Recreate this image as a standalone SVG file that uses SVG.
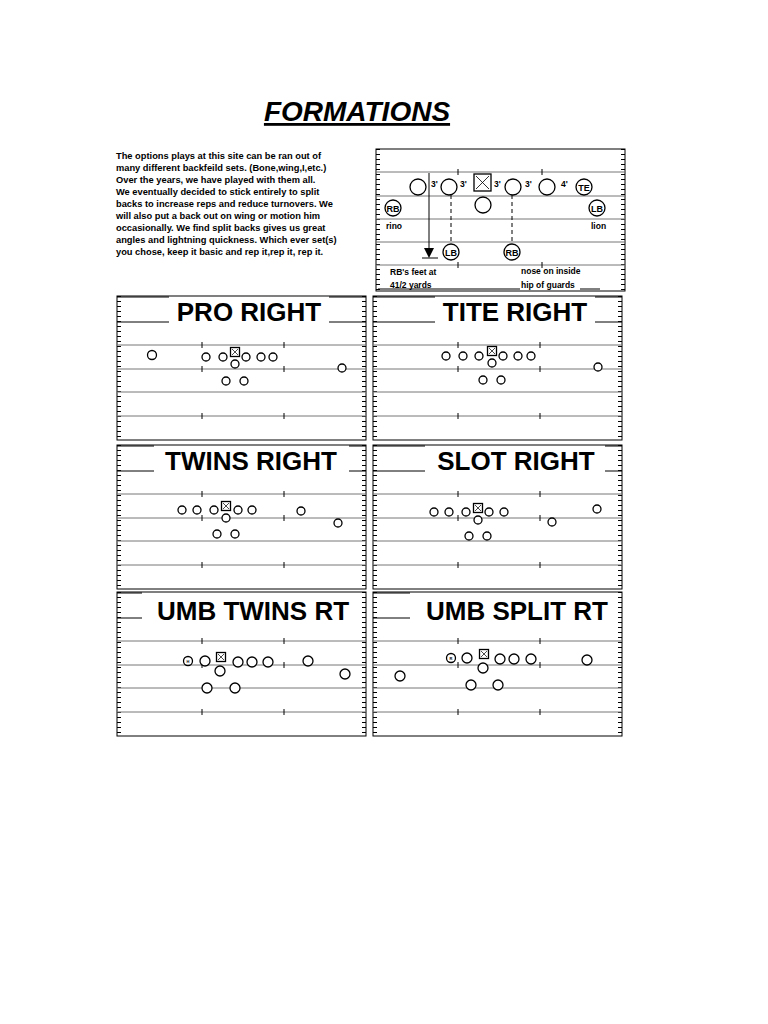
<svg xmlns="http://www.w3.org/2000/svg" width="768" height="1024" viewBox="0 0 768 1024">
<defs>
<style>
.ln{stroke:#000;stroke-width:1;fill:none}
.gl{stroke:#777;stroke-width:1;fill:none}
.tk{stroke:#000;stroke-width:4;stroke-dasharray:1 4;fill:none}
.p{fill:#fff;stroke:#000;stroke-width:1.3}
.t{font-family:"Liberation Sans",Arial,sans-serif;font-weight:bold;fill:#000}
</style>
<g id="field">
<rect x="0" y="0" width="249" height="144" class="ln"/>
<path d="M2 0V144M247 0V144" class="tk"/>
<path d="M0 49H249M0 73H249M0 96H249M0 120H249" class="gl"/>
<path d="M85 46v6M167 46v6M85 70v6M167 70v6M85 117v6M167 117v6" class="ln"/>
</g>
<g id="c"><rect x="-4.5" y="-4.5" width="9" height="9" class="p"/><path d="M-3-3L3 3M3-3L-3 3" stroke="#000" stroke-width="0.7"/></g>
</defs>
<rect width="768" height="1024" fill="#fff"/>
<text x="357" y="121" text-anchor="middle" class="t" font-size="28" font-style="italic" text-decoration="underline">FORMATIONS</text>
<g id="para" class="t" font-size="9.3">
<text x="116" y="159">The options plays at this site can be ran out of</text>
<text x="116" y="171">many different backfeild sets. (Bone,wing,I,etc.)</text>
<text x="116" y="183">Over the years, we have played with them all.</text>
<text x="116" y="195">We eventually decided to stick entirely to split</text>
<text x="116" y="207">backs to increase reps and reduce turnovers. We</text>
<text x="116" y="219">will also put a back out on wing or motion him</text>
<text x="116" y="231">occasionally. We find split backs gives us great</text>
<text x="116" y="243">angles and lightning quickness. Which ever set(s)</text>
<text x="116" y="255">you chose, keep it basic and rep it,rep it, rep it.</text>
</g>
<g id="intro">
<rect x="376" y="149" width="249" height="142" class="ln"/>
<path d="M378 149V291M623 149V291" class="tk"/>
<path d="M376 172H625M376 196H625M376 219H625M376 242H625M376 265H625" class="gl"/>
<path d="M458 169v6M542 169v6M458 262v6M542 262v6" class="ln"/>
<circle cx="418" cy="187" r="8" class="p"/><circle cx="449" cy="187" r="8" class="p"/>
<rect x="474" y="174" width="17" height="17" class="p" stroke-width="2"/><path d="M476 176L489 189M489 176L476 189" stroke="#000" stroke-width="0.8"/>
<circle cx="513" cy="187" r="8" class="p"/><circle cx="547" cy="187" r="8" class="p"/>
<circle cx="584" cy="187" r="8" class="p"/><text x="584" y="191" text-anchor="middle" class="t" font-size="9">TE</text>
<circle cx="483" cy="205" r="8" class="p"/>
<circle cx="393" cy="208" r="8" class="p"/><text x="393" y="212" text-anchor="middle" class="t" font-size="9">RB</text>
<circle cx="597" cy="208" r="8" class="p"/><text x="597" y="212" text-anchor="middle" class="t" font-size="9">LB</text>
<circle cx="451" cy="252" r="8" class="p"/><text x="451" y="256" text-anchor="middle" class="t" font-size="9">LB</text>
<circle cx="512" cy="252" r="8" class="p"/><text x="512" y="256" text-anchor="middle" class="t" font-size="9">RB</text>
<path d="M451 195V244M512 195V244" class="ln" stroke-dasharray="4 3"/>
<path d="M429 173V250" class="ln" stroke-width="1.5"/><path d="M424 248H434L429 258Z" fill="#000"/><path d="M422 258H438" class="ln"/>
<g class="t" font-size="8.5"><text x="431" y="187">3'</text><text x="460" y="187">3'</text><text x="494" y="187">3'</text><text x="525" y="187">3'</text><text x="561" y="187">4'</text>
<text x="386" y="229">rino</text><text x="591" y="229">lion</text>
<text x="390" y="275">RB's feet at</text><text x="390" y="288">41/2 yards</text>
<text x="521" y="274">nose on inside</text><text x="521" y="288">hip of guards</text></g>
<path d="M378 289H520M580 289H600" class="ln"/>
</g>
<g id="pro-right" transform="translate(117,296)">
<use href="#field"/>
<path d="M0 1H52M212 1H249M0 26H52M212 26H249" class="ln"/>
<text x="132" y="25" text-anchor="middle" class="t" font-size="26">PRO RIGHT</text>
</g>
<g id="pro-right-players">
<circle cx="152" cy="355" r="4.5" class="p"/><circle cx="206" cy="357" r="4" class="p"/><circle cx="223" cy="357" r="4" class="p"/>
<use href="#c" x="235" y="352"/><circle cx="246" cy="357" r="4" class="p"/><circle cx="261" cy="357" r="4" class="p"/><circle cx="273" cy="357" r="4" class="p"/>
<circle cx="235" cy="364" r="4" class="p"/><circle cx="226" cy="381" r="4" class="p"/><circle cx="244" cy="381" r="4" class="p"/><circle cx="342" cy="368" r="4" class="p"/>
</g>
<g id="tite-right" transform="translate(373,296)">
<use href="#field"/>
<path d="M0 1H62M222 1H249M0 26H62M222 26H249" class="ln"/>
<text x="142" y="25" text-anchor="middle" class="t" font-size="26">TITE RIGHT</text>
<circle cx="73" cy="60" r="4" class="p"/><circle cx="90" cy="60" r="4" class="p"/><circle cx="106" cy="60" r="4" class="p"/>
<use href="#c" x="119" y="55"/><circle cx="130" cy="60" r="4" class="p"/><circle cx="145" cy="60" r="4" class="p"/><circle cx="158" cy="60" r="4" class="p"/>
<circle cx="119" cy="67" r="4" class="p"/><circle cx="110" cy="84" r="4" class="p"/><circle cx="128" cy="84" r="4" class="p"/><circle cx="225" cy="71" r="4" class="p"/>
</g>
<g id="twins-right" transform="translate(117,445)">
<use href="#field"/>
<path d="M0 1H37M232 1H249M0 26H37M232 26H249" class="ln"/>
<text x="134" y="25" text-anchor="middle" class="t" font-size="26">TWINS RIGHT</text>
<circle cx="65" cy="65" r="4" class="p"/><circle cx="80" cy="65" r="4" class="p"/><circle cx="97" cy="65" r="4" class="p"/>
<use href="#c" x="109" y="61"/><circle cx="121" cy="65" r="4" class="p"/><circle cx="135" cy="65" r="4" class="p"/>
<circle cx="109" cy="73" r="4" class="p"/><circle cx="100" cy="89" r="4" class="p"/><circle cx="118" cy="89" r="4" class="p"/><circle cx="184" cy="66" r="4" class="p"/><circle cx="221" cy="78" r="4" class="p"/>
</g>
<g id="slot-right" transform="translate(373,445)">
<use href="#field"/>
<path d="M0 1H52M232 1H249M0 26H52M232 26H249" class="ln"/>
<text x="143" y="25" text-anchor="middle" class="t" font-size="26">SLOT RIGHT</text>
<circle cx="61" cy="67" r="4" class="p"/><circle cx="76" cy="67" r="4" class="p"/><circle cx="93" cy="67" r="4" class="p"/>
<use href="#c" x="105" y="63"/><circle cx="116" cy="67" r="4" class="p"/><circle cx="131" cy="67" r="4" class="p"/>
<circle cx="105" cy="75" r="4" class="p"/><circle cx="96" cy="91" r="4" class="p"/><circle cx="114" cy="91" r="4" class="p"/><circle cx="179" cy="77" r="4" class="p"/><circle cx="224" cy="64" r="4" class="p"/>
</g>
<g id="umb-twins-rt" transform="translate(117,592)">
<use href="#field"/>
<path d="M0 1H25M0 26H25" class="ln"/>
<text x="136" y="28" text-anchor="middle" class="t" font-size="26">UMB TWINS RT</text>
<circle cx="71" cy="69" r="4.5" class="p"/><text x="71" y="71" text-anchor="middle" class="t" font-size="4">H</text>
<circle cx="88" cy="69" r="5" class="p"/><use href="#c" x="104" y="65"/>
<circle cx="121" cy="70" r="5" class="p"/><circle cx="135" cy="70" r="5" class="p"/><circle cx="151" cy="70" r="5" class="p"/>
<circle cx="103" cy="79" r="5" class="p"/><circle cx="90" cy="96" r="5" class="p"/><circle cx="118" cy="96" r="5" class="p"/><circle cx="191" cy="69" r="5" class="p"/><circle cx="228" cy="82" r="5" class="p"/>
</g>
<g id="umb-split-rt" transform="translate(373,592)">
<use href="#field"/>
<path d="M0 1H37M0 26H37" class="ln"/>
<text x="144" y="28" text-anchor="middle" class="t" font-size="26">UMB SPLIT RT</text>
<circle cx="78" cy="66" r="4.5" class="p"/><text x="78" y="68" text-anchor="middle" class="t" font-size="4">R</text>
<circle cx="94" cy="66" r="5" class="p"/><use href="#c" x="111" y="62"/>
<circle cx="127" cy="67" r="5" class="p"/><circle cx="141" cy="67" r="5" class="p"/><circle cx="158" cy="67" r="5" class="p"/>
<circle cx="110" cy="76" r="5" class="p"/><circle cx="98" cy="93" r="5" class="p"/><circle cx="125" cy="93" r="5" class="p"/><circle cx="214" cy="68" r="5" class="p"/><circle cx="27" cy="84" r="5" class="p"/>
</g>
</svg>
